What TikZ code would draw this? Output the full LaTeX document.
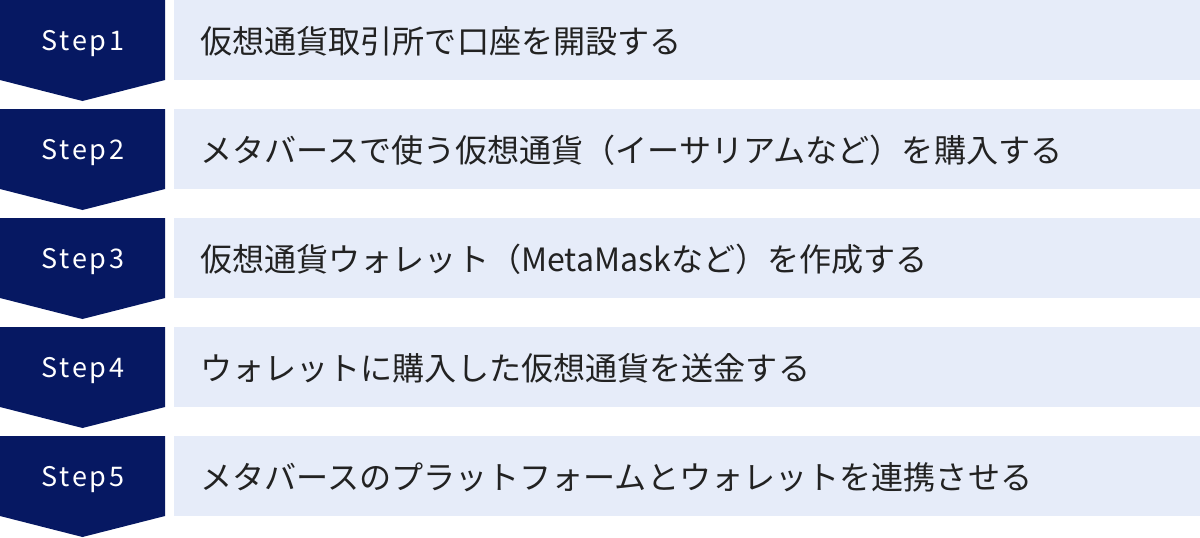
\documentclass[tikz,border=0pt]{standalone}
\usepackage{fontspec}
\setmainfont{Noto Sans CJK JP}
\newfontfamily\stepfont[LetterSpace=10]{Noto Sans CJK JP}
\definecolor{navy}{RGB}{6,24,98}
\definecolor{lightbg}{RGB}{230,236,249}
\definecolor{txt}{RGB}{34,34,34}
\begin{document}
\begin{tikzpicture}[x=1pt,y=-1pt,
  chev/.style={fill=navy},
  steplabel/.style={text=white,font=\stepfont\fontsize{27}{32}\selectfont,inner sep=0pt,anchor=base},
  bar/.style={fill=lightbg,anchor=north west,minimum width=1026pt,minimum height=80pt,inner sep=0pt,draw=none},
  desc/.style={text=txt,font=\fontsize{32.1}{38}\selectfont,anchor=west,inner sep=0pt}]
\useasboundingbox (0,0) rectangle (1200,538);
\foreach \i/\txt in {1/仮想通貨取引所で口座を開設する,
  2/メタバースで使う仮想通貨（イーサリアムなど）を購入する,
  3/仮想通貨ウォレット（MetaMaskなど）を作成する,
  4/ウォレットに購入した仮想通貨を送金する,
  5/メタバースのプラットフォームとウォレットを連携させる}{
  \pgfmathsetmacro{\top}{109*(\i-1)}
  \fill[chev] (0,\top) -- (165,\top) -- (165,\top+80) -- (82.5,\top+101) -- (0,\top+80) -- cycle;
  \node[steplabel] (s\i) at (83,\top+50) {Step\i};
  \node[bar] (b\i) at (174,\top) {};
  \node[desc] (t\i) at (200,\top+41) {\txt};
}
\end{tikzpicture}
\end{document}
